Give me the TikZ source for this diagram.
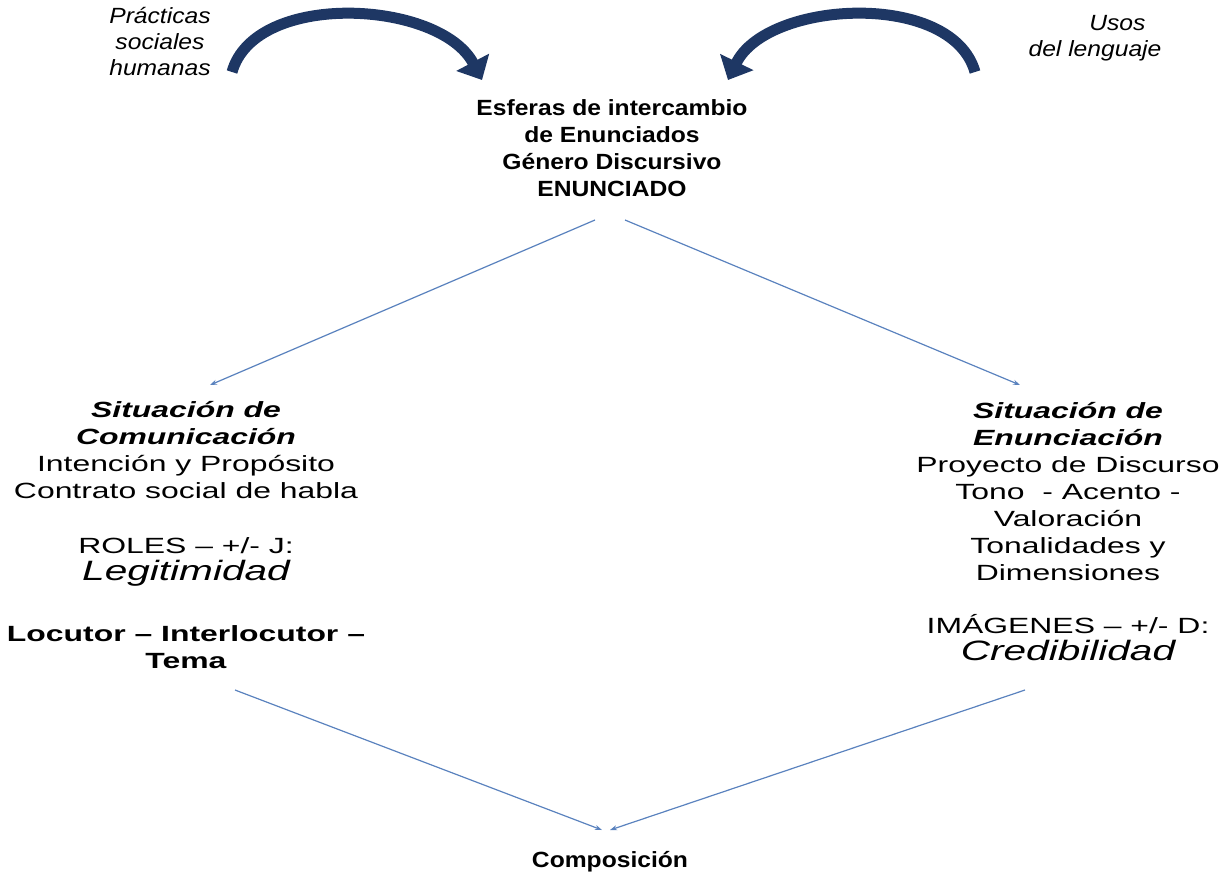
\documentclass[tikz,border=0pt]{standalone}
\usepackage{fontspec}
\setmainfont{Liberation Sans}
\usetikzlibrary{arrows.meta}
\definecolor{navy}{RGB}{30,55,100}
\definecolor{lineblue}{RGB}{90,130,190}
\begin{document}
\begin{tikzpicture}[x=1pt,y=-1pt,
  txt/.style={align=center,inner sep=0pt,font=\fontsize{22}{27}\selectfont},
  wide/.style={xscale=1.45,transform shape},
  semi/.style={xscale=1.12,transform shape},
  thin/.style={draw=lineblue,line width=1.2pt,-{Stealth[length=7pt,width=5pt]}},
  curv/.style={draw=navy,line width=11pt,-{Triangle[length=20pt,width=36pt]}}]
\useasboundingbox (0,0) rectangle (1225,889);
\node[txt,semi,font=\fontsize{22}{26}\selectfont\itshape] (ps) at (160,42) {Prácticas\\sociales\\humanas};
\node[txt,semi,font=\fontsize{22}{26}\selectfont\itshape] (ul) at (1095,38) {\hspace*{40pt}Usos\\del lenguaje};
\coordinate (a1) at (232,72); \coordinate (a2) at (482,80);
\coordinate (b1) at (975,72); \coordinate (b2) at (728,80);
\draw[curv] (a1) .. controls (255,-10) and (440,0) .. (a2);
\draw[curv] (b1) .. controls (952,-10) and (767,0) .. (b2);
\node[txt,semi,font=\fontsize{22}{27}\selectfont\bfseries] (top) at (612,148) {Esferas de intercambio\\de Enunciados\\Género Discursivo\\ENUNCIADO};
\node[txt,wide] (left) at (186,535) {\textbf{\textit{Situación de}}\\\textbf{\textit{Comunicación}}\\Intención y Propósito\\Contrato social de habla\\[28pt]ROLES -- +/- J:\\{\fontsize{28}{27}\selectfont\itshape Legitimidad}\\[34pt]\textbf{Locutor -- Interlocutor --}\\\textbf{Tema}};
\node[txt,wide] (right) at (1068,532) {\textbf{\textit{Situación de}}\\\textbf{\textit{Enunciación}}\\Proyecto de Discurso\\Tono\ \ - Acento -\\Valoración\\Tonalidades y\\Dimensiones\\[26pt]IMÁGENES -- +/- D:\\{\fontsize{28}{27}\selectfont\itshape Credibilidad}};
\node[txt,semi,font=\fontsize{22}{27}\selectfont\bfseries] (comp) at (610,862) {Composición};
\coordinate (t1) at (595,220); \coordinate (t2) at (625,220);
\coordinate (l1) at (210,385); \coordinate (r1) at (1020,385);
\coordinate (l2) at (235,690); \coordinate (r2) at (1025,690);
\coordinate (c1) at (602,830); \coordinate (c2) at (610,830);
\draw[thin] (t1) -- (l1);
\draw[thin] (t2) -- (r1);
\draw[thin] (l2) -- (c1);
\draw[thin] (r2) -- (c2);
\end{tikzpicture}
\end{document}
